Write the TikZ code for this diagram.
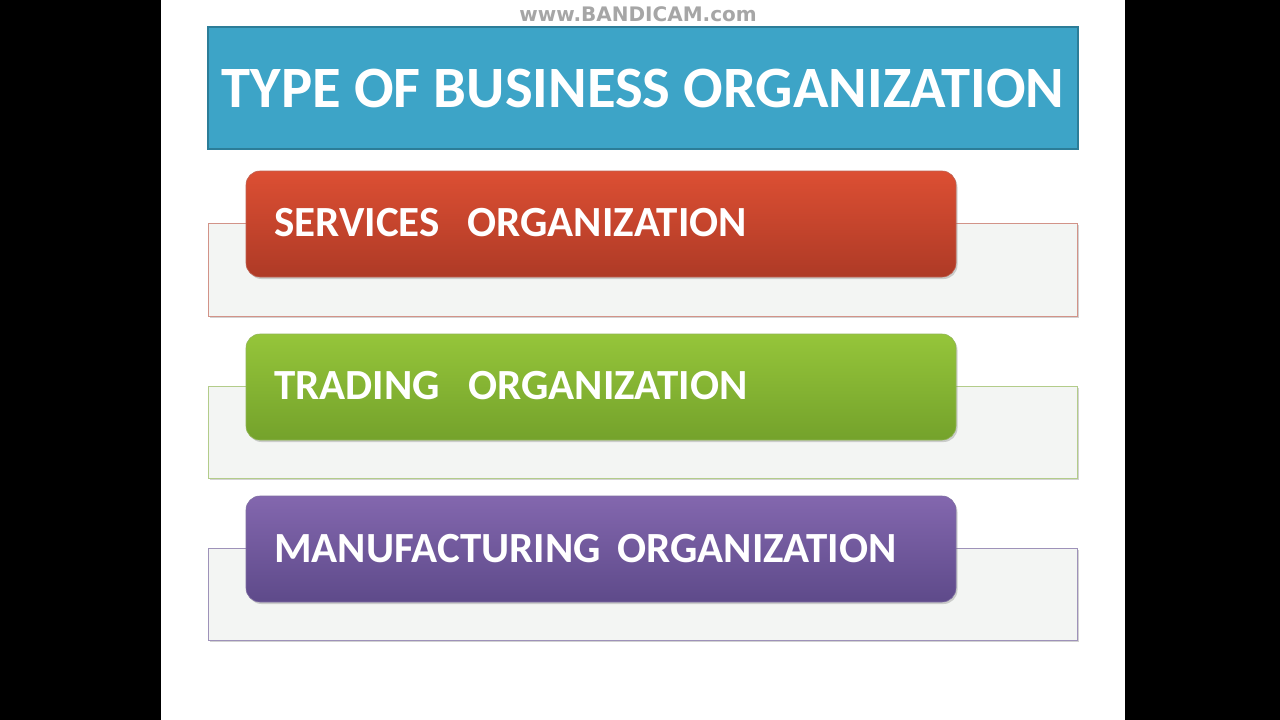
\documentclass[tikz,border=0pt]{standalone}
\usepackage{fontspec}
\setmainfont{Carlito}
\newfontfamily\wmfont{DejaVu Sans}
\usetikzlibrary{shadows}
\definecolor{titlefill}{HTML}{3DA4C7}
\definecolor{titleline}{HTML}{2C7D98}
\definecolor{backfill}{HTML}{F3F5F3}
\definecolor{redtop}{HTML}{DC4F33}
\definecolor{redbot}{HTML}{AE3A26}
\definecolor{greentop}{HTML}{95C53A}
\definecolor{greenbot}{HTML}{74A22B}
\definecolor{purptop}{HTML}{8367AE}
\definecolor{purpbot}{HTML}{5E4A8A}
\tikzset{
  backbox/.style={fill=backfill, draw=#1, line width=0.8pt,
    drop shadow={shadow xshift=1.5pt, shadow yshift=-2pt, opacity=0.35}},
  frontbox/.style={rounded corners=14pt, line width=0.6pt,
    drop shadow={shadow xshift=1.5pt, shadow yshift=-2pt, opacity=0.35}},
  itemtext/.style={text=white, font=\fontsize{43}{43}\selectfont\bfseries, anchor=west, inner sep=0pt}
}
\begin{document}
\begin{tikzpicture}[x=1pt,y=-1pt]
\useasboundingbox (0,0) rectangle (1280,720);
\fill[black] (0,0) rectangle (1280,720);
\fill[white] (161,0) rectangle (1125,720);
% watermark
\node[text=gray!70, font=\wmfont\bfseries\fontsize{20}{20}\selectfont, inner sep=0pt] (wm) at (638,14) {www.BANDICAM.com};
% title
\node[draw=titleline, fill=titlefill, line width=1.5pt, minimum width=870pt, minimum height=122pt, inner sep=0pt, text=white, font=\fontsize{58.6}{58.6}\selectfont\bfseries] (title) at (643,88) {TYPE OF BUSINESS ORGANIZATION};
% back boxes
\path[backbox=redbot!55] (208,223) rectangle (1077,316);
\path[backbox=greenbot!55] (208,386) rectangle (1077,478);
\path[backbox=purpbot!60] (208,548) rectangle (1077,640);
% front boxes
\path[frontbox, top color=redtop, bottom color=redbot, draw=redbot!80] (246,171) rectangle (956,277);
\path[frontbox, top color=greentop, bottom color=greenbot, draw=greenbot!80] (246,334) rectangle (956,440);
\path[frontbox, top color=purptop, bottom color=purpbot, draw=purpbot!80] (246,496) rectangle (956,602);
\node[itemtext] (s) at (274,223) {SERVICES\hspace{0.42em} ORGANIZATION};
\node[itemtext] (t) at (274,386) {TRADING\hspace{0.43em} ORGANIZATION};
\node[itemtext] (m) at (274,549) {MANUFACTURING\hspace{0.16em} ORGANIZATION};
\end{tikzpicture}
\end{document}
